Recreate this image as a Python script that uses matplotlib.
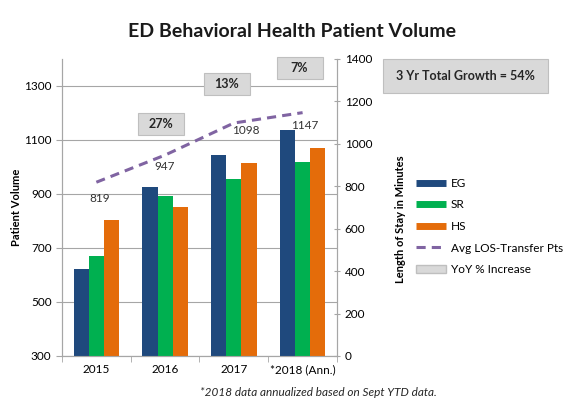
import numpy as np
import matplotlib
matplotlib.use("Agg")
import matplotlib.pyplot as plt
from matplotlib.patches import Rectangle, Patch
from matplotlib.lines import Line2D

plt.rcParams["font.family"] = ["Lato", "DejaVu Sans"]

years = ["2015", "2016", "2017", "*2018 (Ann.)"]
eg = [623, 924, 1046, 1138]
sr = [670, 892, 957, 1020]
hs = [805, 852, 1013, 1072]
los = [819, 947, 1098, 1147]
yoy = ["27%", "13%", "7%"]

c_eg = "#1F497D"
c_sr = "#00B050"
c_hs = "#E46C0A"
c_los = "#8064A2"
c_box = "#D9D9D9"
c_axis = "#A6A6A6"

fig = plt.figure(figsize=(5.83, 4.08), dpi=100)
ax = fig.add_axes([0.1063, 0.1275, 0.4717, 0.728])
ax2 = ax.twinx()

x = np.arange(len(years))
w = 0.22
ax.bar(x - w, eg, w, color=c_eg, zorder=3)
ax.bar(x, sr, w, color=c_sr, zorder=3)
ax.bar(x + w, hs, w, color=c_hs, zorder=3)

ax.set_xlim(-0.5, 3.5)
ax.set_ylim(300, 1400)
ax.set_yticks(range(300, 1400, 200))
ax.grid(axis="y", color=c_axis, lw=0.8, zorder=0)
ax.set_xticks(x)
ax.set_xticklabels(years, fontsize=8.5)
ax.set_xticks(np.arange(-0.5, 4, 1), minor=True)
ax.tick_params(axis="x", which="major", length=0, pad=6)
ax.tick_params(axis="x", which="minor", length=4, color=c_axis)
ax.tick_params(axis="y", labelsize=8.5, length=4, color=c_axis)
ax.set_ylabel("Patient Volume", fontsize=8, fontweight="bold")
ax.yaxis.set_label_coords(-0.145, 0.5)

ax2.plot(x, los, color=c_los, lw=2.2, ls=(0, (3, 2)), zorder=4)
ax2.set_ylim(0, 1400)
ax2.set_yticks(range(0, 1401, 200))
ax2.tick_params(axis="y", labelsize=8.5, length=4, color=c_axis,
                direction="inout")
ax2.set_ylabel("Length of Stay in Minutes", fontsize=8, fontweight="bold")
ax2.yaxis.set_label_coords(1.21, 0.46)
label_off = [(2.6, -11.7), (0, -8.4), (8.6, -5.7), (1.7, -9.4)]
for xi, v, off in zip(x, los, label_off):
    ax2.annotate(str(v), (xi, v), xytext=off, textcoords="offset points",
                 ha="center", va="center", fontsize=8.5, color="#333333")

for a in (ax, ax2):
    a.spines["top"].set_visible(False)
    for s in ("left", "right", "bottom"):
        a.spines[s].set_color(c_axis)

# YoY boxes (axes fraction)
box_pos = [(0.360, 0.781), (0.600, 0.916), (0.864, 0.971)]
bw, bh = 0.167, 0.074
for txt, (cx, cy) in zip(yoy, box_pos):
    ax.add_patch(Rectangle((cx - bw / 2, cy - bh / 2), bw, bh,
                           transform=ax.transAxes, facecolor=c_box,
                           edgecolor="#BFBFBF", lw=0.8, zorder=5,
                           clip_on=False))
    ax.text(cx, cy, txt, transform=ax.transAxes, ha="center", va="center",
            fontsize=9, fontweight="bold", color="#262626", zorder=6)

fig.patches.append(Rectangle((0.657, 0.772), 0.283, 0.083,
                             transform=fig.transFigure, facecolor=c_box,
                             edgecolor="#BFBFBF", lw=0.8))
fig.text(0.798, 0.814, "3 Yr Total Growth = 54%", ha="center", va="center",
         fontsize=9, fontweight="bold", color="#262626")

handles = [
    Line2D([], [], color=c_eg, lw=5, solid_capstyle="butt"),
    Line2D([], [], color=c_sr, lw=5, solid_capstyle="butt"),
    Line2D([], [], color=c_hs, lw=5, solid_capstyle="butt"),
    Line2D([], [], color=c_los, lw=2.2, ls=(0, (3, 2))),
    Patch(facecolor=c_box, edgecolor="#BFBFBF"),
]
labels = ["EG", "SR", "HS", "Avg LOS-Transfer Pts", "YoY % Increase"]
fig.legend(handles, labels, loc="upper left", bbox_to_anchor=(0.703, 0.579),
           frameon=False, fontsize=8.5, handlelength=2.6, handletextpad=0.35,
           labelspacing=0.9, borderpad=0)

fig.text(0.5, 0.923, "ED Behavioral Health Patient Volume", ha="center",
         va="center", fontsize=14, fontweight="bold", color="#1a1a1a")
fig.text(0.546, 0.039, "*2018 data annualized based on Sept YTD data.",
         ha="center", va="center", fontsize=8.5, style="italic",
         color="#262626")

fig.savefig("out.png", dpi=100)
